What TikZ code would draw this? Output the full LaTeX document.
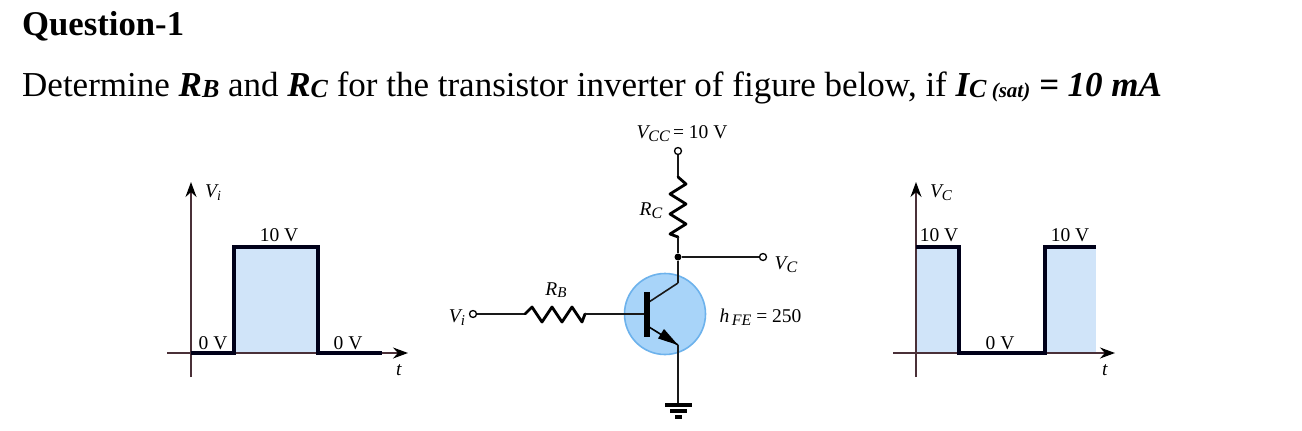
\documentclass[tikz,border=0pt]{standalone}
\usepackage{fontspec}
\setmainfont{Liberation Serif}
\usetikzlibrary{arrows.meta}
\definecolor{pulse}{HTML}{D0E4F9}
\definecolor{axisc}{HTML}{4A3038}
\definecolor{trfill}{HTML}{A8D4F9}
\definecolor{tredge}{HTML}{6DB2EC}
\newcommand{\fs}[1]{\fontsize{#1}{#1}\selectfont}
\newcommand{\lowsub}[3]{\raisebox{-#2pt}{\fs{#1}#3}}
\tikzset{
 x=1pt,y=-1pt,
 title/.style={anchor=base west,inner sep=0pt,font=\fs{34.7}\bfseries},
 body/.style={anchor=base west,inner sep=0pt,font=\fs{35}},
 lab/.style={anchor=base,inner sep=0pt,font=\fs{19.5}},
 axisline/.style={draw=axisc,line width=1.3pt,-{Stealth[length=15pt,width=11pt,color=black]}},
 wave/.style={draw=black!90!blue,line width=3.8pt,line join=miter},
 pulsefill/.style={fill=pulse,draw=none},
 wire/.style={draw=black!90,line width=1.6pt},
 res/.style={draw=black,line width=2.8pt,line join=round,line cap=round},
 term/.style={circle,draw=black,fill=white,line width=1.3pt,minimum size=7pt,inner sep=0pt},
 dot/.style={circle,fill=black,minimum size=7pt,inner sep=0pt},
 tbody/.style={circle,fill=trfill,draw=tredge,line width=1.6pt,minimum size=81pt,inner sep=0pt},
}
\begin{document}
\begin{tikzpicture}
\useasboundingbox (0,0) rectangle (1302,431);
\fill[white] (0,0) rectangle (1302,431);
% text
\node[title] (q) at (22,35) {Question-1};
\node[body] (d) at (22,96) {Determine \textbf{\textit{R\lowsub{26}{1}{B}}} and \textbf{\textit{R\lowsub{26}{1}{C}}} for the transistor inverter of figure below, if \textbf{\textit{I\lowsub{26}{1}{C}\lowsub{21}{1}{ (sat)}}} \textbf{\textit{= 10 mA}}};
% left graph
\fill[pulsefill] (234,247) rectangle (318,353);
\coordinate (la0) at (191,377); \coordinate (la1) at (191,182);
\coordinate (lb0) at (167,353); \coordinate (lb1) at (408,353);
\draw[axisline] (la0) -- (la1);
\draw[axisline] (lb0) -- (lb1);
\draw[wave] (191,353) -- (234,353) -- (234,247) -- (318,247) -- (318,353) -- (382,353);
\node[lab] (lvi) at (213,197) {\textit{V\lowsub{14}{3}{i}}};
\node[lab] (l10) at (279,241) {10 V};
\node[lab] (l0a) at (213,349) {0 V};
\node[lab] (l0b) at (348,349) {0 V};
\node[lab] (lt) at (399,375) {\textit{t}};
% right graph
\fill[pulsefill] (917,249) rectangle (958,352);
\fill[pulsefill] (1046,249) rectangle (1096,352);
\coordinate (ra0) at (916,377); \coordinate (ra1) at (916,182);
\coordinate (rb0) at (893,353); \coordinate (rb1) at (1115,353);
\draw[axisline] (ra0) -- (ra1);
\draw[axisline] (rb0) -- (rb1);
\draw[wave] (916,247) -- (959,247) -- (959,353) -- (1045,353) -- (1045,247) -- (1096,247);
\node[lab] (rvc) at (941,197) {\textit{V\lowsub{15}{3}{C}}};
\node[lab] (r10a) at (939,241) {10 V};
\node[lab] (r10b) at (1070,241) {10 V};
\node[lab] (r0) at (1000,349) {0 V};
\node[lab] (rt) at (1105,375) {\textit{t}};
% transistor
\node[tbody] (T) at (665,314) {};
% terminals
\node[term] (vcc) at (678,151) {};
\node[dot] (j) at (678,257) {};
\node[term] (vc) at (763,257) {};
\node[term] (vi) at (473,314) {};
\coordinate (rct) at (678,177); \coordinate (rcb) at (678,237);
\coordinate (rbl) at (525,314); \coordinate (rbr) at (585,314);
\coordinate (bar) at (647,314); \coordinate (bt) at (647,292); \coordinate (bb) at (647,337);
\coordinate (cin) at (649,302); \coordinate (col) at (678,283);
\coordinate (ein) at (649,327); \coordinate (emi) at (678,345);
\coordinate (gnd) at (678,405);
\draw[wire] (vcc) -- (rct);
\draw[res] (rct) -- ++(8,7) -- ++(-16,10) -- ++(16,10) -- ++(-16,10) -- ++(16,10) -- ++(-16,10) -- (rcb);
\draw[wire] (rcb) -- (j);
\draw[wire] (j) -- (vc);
\draw[wire] (j) -- (col);
\draw[wire] (col) -- (cin);
\draw[wire] (vi) -- (rbl);
\draw[res] (rbl) -- ++(7,-7) -- ++(10,15) -- ++(10,-15) -- ++(10,15) -- ++(10,-15) -- ++(10,15) -- (rbr);
\draw[wire] (rbr) -- (bar);
\draw[draw=black,line width=5.5pt] (bt) -- (bb);
\draw[wire,draw=black] (ein) -- (emi);
\fill[black] (678,345) -- (658,338.5) -- (664,329) -- cycle;
\draw[wire] (emi) -- (gnd);
\draw[draw=black,line width=3.4pt] (665,405) -- (692,405);
\draw[draw=black,line width=3.4pt] (670,411) -- (687,411);
\draw[draw=black,line width=3.4pt] (675,417) -- (682,417);
% circuit labels
\node[lab] (lvcc) at (682,138) {\textit{V\lowsub{16}{3}{CC}}\,= 10 V};
\node[lab] (lrc) at (651,215) {\textit{R\lowsub{16}{3}{C}}};
\node[lab] (lvco) at (786,269) {\textit{V\lowsub{16}{3}{C}}};
\node[lab] (lrb) at (556,295) {\textit{R\lowsub{15}{2}{B}}};
\node[lab] (lvi2) at (457,322) {\textit{V\lowsub{15}{3}{i}}};
\node[lab] (lh) at (760.5,322) {\textit{h\lowsub{16}{3}{\,FE}} = 250};
\end{tikzpicture}
\end{document}
